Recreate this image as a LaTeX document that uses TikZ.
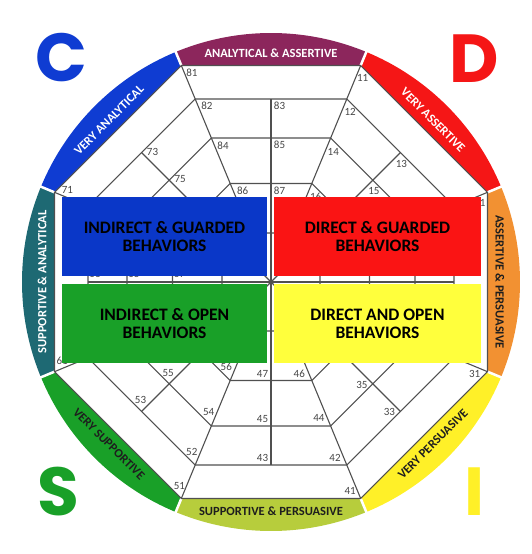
\documentclass[tikz,border=0pt]{standalone}
\usepackage{fontspec}
\setmainfont{Carlito}
\newfontfamily\letterfont{Poppins}
\usepackage{tikz}
\usetikzlibrary{calc}
\definecolor{bandmaroon}{RGB}{140,38,92}
\definecolor{bandred}{RGB}{245,22,22}
\definecolor{bandorange}{RGB}{242,145,50}
\definecolor{bandyellow}{RGB}{255,240,40}
\definecolor{bandlime}{RGB}{183,205,60}
\definecolor{bandgreen}{RGB}{25,160,40}
\definecolor{bandteal}{RGB}{30,105,115}
\definecolor{bandblue}{RGB}{15,60,210}
\definecolor{boxblue}{RGB}{10,55,200}
\definecolor{boxred}{RGB}{250,20,20}
\definecolor{boxgreen}{RGB}{25,160,40}
\definecolor{boxyellow}{RGB}{255,255,60}
\definecolor{linegray}{RGB}{80,80,80}
\definecolor{cellgray}{RGB}{70,70,70}
\definecolor{textdark}{RGB}{30,30,30}
\tikzset{
  bandtext/.style={font=\fontsize{12.5}{13}\selectfont\bfseries, inner sep=0pt},
  celltext/.style={font=\fontsize{11}{12}\selectfont, text=cellgray, inner sep=0pt},
  gridline/.style={draw=linegray, line width=1.1pt},
  behavbox/.style={font=\fontsize{17.5}{18}\selectfont\bfseries, align=center,
    text=black, inner sep=0pt},
  bigletter/.style={font=\letterfont\bfseries\fontsize{68}{68}\selectfont, inner sep=0pt},
  separator/.style={draw=white, line width=2.5pt}
}

\begin{document}
\begin{tikzpicture}[x=1pt, y=1pt]
  \useasboundingbox (-271,-272) rectangle (260,282);

  % ── Outer ring of coloured bands ───────────────────────────────────────────
  \foreach \ang/\col/\txt/\rot/\tcol in {
      90/bandmaroon/{ANALYTICAL \& ASSERTIVE}/0/white,
      45/bandred/{VERY ASSERTIVE}/-45/white,
      0/bandorange/{ASSERTIVE \& PERSUASIVE}/-90/textdark,
      -45/bandyellow/{VERY PERSUASIVE}/45/textdark,
      -90/bandlime/{SUPPORTIVE \& PERSUASIVE}/0/textdark,
      -135/bandgreen/{VERY SUPPORTIVE}/-45/textdark,
      180/bandteal/{SUPPORTIVE \& ANALYTICAL}/90/white,
      135/bandblue/{VERY ANALYTICAL}/45/white} {
    \fill[\col] (\ang-22.5:234.3) -- (\ang-22.5:249)
      arc[start angle=\ang-22.5, end angle=\ang+22.5, radius=249]
      -- (\ang+22.5:234.3) -- cycle;
    \node[bandtext, text=\tcol, rotate=\rot] (band\ang) at (\ang:229) {\txt};
  }
  % white gaps between the bands
  \foreach \k in {0,...,7}
    \draw[separator] (22.5+45*\k:234.3) -- (22.5+45*\k:252);

  % ── Inner grid: octagons, spokes and centre lines ─────────────────────────
  \foreach \d [evaluate=\d as \r using \d/0.92388] in {216.5,183,144,98.5,49}
    \draw[gridline] (22.5:\r) \foreach \k in {1,...,7}{ -- (22.5+45*\k:\r)} -- cycle;
  \foreach \k in {0,...,7} {
    \draw[gridline] (22.5+45*\k:53) -- (22.5+45*\k:234.3);
    \draw[gridline] (0,0) -- (45*\k:183);
  }

  % ── Cell numbers, one wedge at a time (only the ones left uncovered) ──────
  \foreach \w/\cells [count=\i from 0] in {8/{1,2,3,4,5,6,7}, 1/{1,2,3,4,5,6},
      2/{1}, 3/{1,3,5}, 4/{1,2,3,4,5,6,7}, 5/{1,2,3,4,5,6}, 6/{1,3,5,7}, 7/{1,3,5}} {
    \begin{scope}[rotate=-45*\i]
      \coordinate (p1) at ($(112.5:234.3)+(10.5,-7.7)$);
      \coordinate (p2) at ($(112.5:198.1)+(11.8,-7)$);
      \coordinate (p3) at ($(0,183)+(8.5,-7)$);
      \coordinate (p4) at ($(112.5:155.9)+(11.7,-8)$);
      \coordinate (p5) at ($(0,144)+(8.5,-7)$);
      \coordinate (p6) at ($(112.5:106.6)+(12.5,-7)$);
      \coordinate (p7) at ($(0,98.5)+(8.5,-7)$);
      \foreach \c in \cells
        \node[celltext] (cell\w\c) at (p\c) {\w\c};
    \end{scope}
  }

  % ── Four behaviour boxes ──────────────────────────────────────────────────
  \node[behavbox, fill=boxblue, minimum width=205pt, minimum height=79pt]
    (iguarded) at (-106.5,45.5) {INDIRECT \& GUARDED\\BEHAVIORS};
  \node[behavbox, fill=boxred, minimum width=207pt, minimum height=79pt]
    (dguarded) at (106.5,45.5) {DIRECT \& GUARDED\\BEHAVIORS};
  \node[behavbox, fill=boxgreen, minimum width=205pt, minimum height=79pt]
    (iopen) at (-106.5,-41.5) {INDIRECT \& OPEN\\BEHAVIORS};
  \node[behavbox, fill=boxyellow, minimum width=207pt, minimum height=79pt]
    (dopen) at (106.5,-41.5) {DIRECT AND OPEN\\BEHAVIORS};

  % ── Corner letters ────────────────────────────────────────────────────────
  \node[bigletter, text=bandblue] (letC) at (-209.5,224) {C};
  \node[bigletter, text=bandred] (letD) at (203.5,223) {D};
  \node[bigletter, text=bandgreen] (letS) at (-213,-210) {S};
  \node[bigletter, text=bandyellow] (letI) at (204,-210) {I};
\end{tikzpicture}
\end{document}
